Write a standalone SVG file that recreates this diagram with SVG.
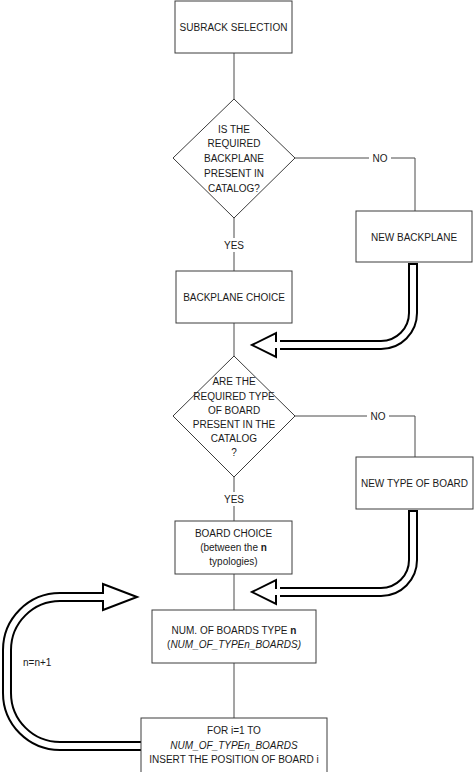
<svg xmlns="http://www.w3.org/2000/svg" width="474" height="772" viewBox="0 0 474 772">
<style>
.box{fill:#fff;stroke:#3c3c3c;stroke-width:1}
.ln{fill:none;stroke:#4a4a4a;stroke-width:1}
.t{font-family:"Liberation Sans",Arial,sans-serif;font-size:10px;fill:#1a1a1a;text-anchor:middle}
.it{font-style:italic}
.b{font-weight:bold}
.sk{fill:none;stroke:#000;stroke-width:10}
.sw{fill:none;stroke:#fff;stroke-width:6}
.hd{fill:#fff;stroke:#000;stroke-width:2;stroke-linejoin:miter}
</style>
<rect width="474" height="772" fill="#fff"/>
<g id="connectors">
<path class="ln" d="M234,53 V99"/>
<path class="ln" d="M234,218 V238 M234,252 V271"/>
<path class="ln" d="M295,158 H369 M391,158 H415 V211"/>
<path class="ln" d="M234,323 V356"/>
<path class="ln" d="M234,477 V492 M234,506 V521"/>
<path class="ln" d="M295,416 H367 M389,416 H415 V457"/>
<path class="ln" d="M234,574 V610"/>
<path class="ln" d="M234,663 V718"/>
<text class="t" x="234" y="249">YES</text>
<text class="t" x="380" y="161.6">NO</text>
<text class="t" x="234" y="503">YES</text>
<text class="t" x="378" y="419.6">NO</text>
</g>
<g id="arrow1">
<path class="sk" d="M413,263 V313 A32,32 0 0 1 381,345 H280"/>
<polygon class="hd" points="252,345 276,333 276,357"/>
<path class="sw" d="M413,265 V313 A32,32 0 0 1 381,345 H274"/>
</g>
<g id="arrow2">
<path class="sk" d="M413,510 V560 A32,32 0 0 1 381,592 H280"/>
<polygon class="hd" points="252,592 276,580 276,604"/>
<path class="sw" d="M413,512 V560 A32,32 0 0 1 381,592 H274"/>
</g>
<g id="arrow3">
<path class="sk" d="M141,746 H60 A53,53 0 0 1 7,693 V650 A53,53 0 0 1 60,597 H106"/>
<polygon class="hd" points="137,597 103,584 103,610"/>
<path class="sw" d="M141,746 H60 A53,53 0 0 1 7,693 V650 A53,53 0 0 1 60,597 H105"/>
<text class="t" x="23" y="666" style="text-anchor:start">n=n+1</text>
</g>
<g id="subrack">
<rect class="box" x="175" y="1" width="117" height="52"/>
<text class="t" x="233.5" y="30.6">SUBRACK SELECTION</text>
</g>
<g id="decision1">
<polygon class="box" points="234,99 295,158 234,218 173,158"/>
<text class="t" x="234" y="133">IS THE</text>
<text class="t" x="234" y="147">REQUIRED</text>
<text class="t" x="234" y="162">BACKPLANE</text>
<text class="t" x="234" y="176.5">PRESENT IN</text>
<text class="t" x="234" y="191.5">CATALOG?</text>
</g>
<g id="newbackplane">
<rect class="box" x="356" y="211" width="116" height="51"/>
<text class="t" x="414" y="240.6">NEW BACKPLANE</text>
</g>
<g id="backplanechoice">
<rect class="box" x="176" y="271" width="116" height="52"/>
<text class="t" x="234" y="300.6">BACKPLANE CHOICE</text>
</g>
<g id="decision2">
<polygon class="box" points="234,356 295,416 234,477 173,416"/>
<text class="t" x="234" y="385">ARE THE</text>
<text class="t" x="234" y="399.5">REQUIRED TYPE</text>
<text class="t" x="234" y="413.5">OF BOARD</text>
<text class="t" x="234" y="428">PRESENT IN THE</text>
<text class="t" x="234" y="442">CATALOG</text>
<text class="t" x="234" y="456">?</text>
</g>
<g id="newtypeofboard">
<rect class="box" x="356" y="457" width="117" height="52"/>
<text class="t" x="414.5" y="486.6">NEW TYPE OF BOARD</text>
</g>
<g id="boardchoice">
<rect class="box" x="175" y="521" width="117" height="53"/>
<text class="t" x="233.5" y="537">BOARD CHOICE</text>
<text class="t" x="233.5" y="551">(between the <tspan class="b">n</tspan></text>
<text class="t" x="233.5" y="565">typologies)</text>
</g>
<g id="numboards">
<rect class="box" x="152" y="610" width="164" height="53"/>
<text class="t" x="234" y="634">NUM. OF BOARDS TYPE <tspan class="b">n</tspan></text>
<text class="t" x="234" y="648">(<tspan class="it">NUM_OF_TYPEn_BOARDS)</tspan></text>
</g>
<g id="forloop">
<rect class="box" x="141" y="718" width="186" height="56"/>
<text class="t" x="234" y="733.6">FOR i=1 TO</text>
<text class="t it" x="234" y="748.6">NUM_OF_TYPEn_BOARDS</text>
<text class="t" x="234" y="762.6">INSERT THE POSITION OF BOARD i</text>
</g>
</svg>
